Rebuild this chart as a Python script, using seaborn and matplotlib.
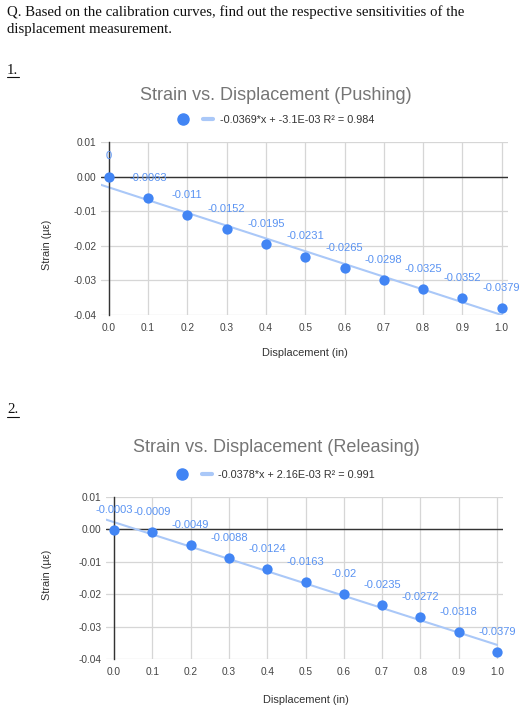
import numpy as np
import pandas as pd
import matplotlib
matplotlib.use("Agg")
import matplotlib.pyplot as plt
import seaborn as sns
from matplotlib.lines import Line2D

sns.set_style("white")
plt.rcParams['font.family'] = ['Liberation Sans', 'DejaVu Sans']

# --- data ---
displacement = [0.0, 0.1, 0.2, 0.3, 0.4, 0.5, 0.6, 0.7, 0.8, 0.9, 1.0]
strain_push = [0, -0.0063, -0.011, -0.0152, -0.0195, -0.0231, -0.0265,
               -0.0298, -0.0325, -0.0352, -0.0379]
strain_release = [-0.0003, -0.0009, -0.0049, -0.0088, -0.0124, -0.0163, -0.02,
                  -0.0235, -0.0272, -0.0318, -0.0379]
push_labels = ['0', '-0.0063', '-0.011', '-0.0152', '-0.0195', '-0.0231', '-0.0265',
               '-0.0298', '-0.0325', '-0.0352', '-0.0379']
release_labels = ['-0.0003', '-0.0009', '-0.0049', '-0.0088', '-0.0124', '-0.0163',
                  '-0.02', '-0.0235', '-0.0272', '-0.0318', '-0.0379']
trend_push = (-0.0369, -3.1e-3)
trend_release = (-0.0378, 2.16e-3)
eq_push = '-0.0369*x + -3.1E-03 R² = 0.984'
eq_release = '-0.0378*x + 2.16E-03 R² = 0.991'
x_ticks = [0.0, 0.1, 0.2, 0.3, 0.4, 0.5, 0.6, 0.7, 0.8, 0.9, 1.0]
y_ticks = [0.01, 0.00, -0.01, -0.02, -0.03, -0.04]

W, H = 524, 714
POINT = '#4285F4'
LABEL = '#5a93f2'
TREND = '#aac8f8'

fig = plt.figure(figsize=(W / 100, H / 100), dpi=100)


def px(x, y):
    return x / W, 1 - y / H


def draw_chart(left, right, top, bottom, strain, labels, trend, eq, title,
               title_y, legend_y, ylabel_y, xlabel_y):
    xmin, xmax = -0.02, 1.015
    # axes rectangle in pixels, computed from where 0.0 / 1.0 sit
    scale = (right - left) / 1.0
    ax_l = left + xmin * scale
    ax_r = left + xmax * scale
    ax = fig.add_axes([ax_l / W, 1 - bottom / H, (ax_r - ax_l) / W, (bottom - top) / H])

    df = pd.DataFrame({'x': displacement, 'y': strain})
    tx = np.array([xmin, 1.0])
    ax.plot(tx, trend[0] * tx + trend[1], color=TREND, lw=1.5, zorder=2)
    sns.scatterplot(data=df, x='x', y='y', ax=ax, color=POINT, s=55,
                    edgecolor=POINT, linewidth=0, zorder=3, legend=False)
    for xv, yv, lab in zip(displacement, strain, labels):
        ax.annotate(lab, (xv, yv), xytext=(0, 14.5), textcoords='offset points',
                    ha='center', va='center', fontsize=8, color=LABEL, zorder=4)

    ax.set_xlim(xmin, xmax)
    ax.set_ylim(-0.04, 0.01)
    ax.set_xticks(x_ticks)
    ax.set_xticklabels([f'{t:.1f}' for t in x_ticks])
    ax.set_yticks(y_ticks)
    ax.set_yticklabels([f'{t:.2f}' for t in y_ticks])
    ax.grid(True, color='#d6d6d6', lw=0.9, zorder=0)
    for s in ['top', 'right', 'bottom']:
        ax.spines[s].set_visible(False)
    ax.spines['left'].set_position(('data', 0))
    ax.spines['left'].set_color('#333333')
    ax.spines['left'].set_linewidth(1.0)
    ax.axhline(0, color='#333333', lw=1.0, zorder=1)
    ax.tick_params(axis='both', length=0, labelsize=7.3, labelcolor='#444444')
    ax.tick_params(axis='y', pad=9)
    ax.tick_params(axis='x', pad=6)
    ax.set_xlabel('')
    ax.set_ylabel('')

    cx = (left + right) / 2
    fig.text(*px(276, title_y), title, ha='center', va='center',
             fontsize=13, color='#757575')
    handles = [Line2D([], [], marker='o', ls='', color=POINT, markersize=8),
               Line2D([], [], color=TREND, lw=3)]
    fig.legend(handles, ['', eq], loc='center', bbox_to_anchor=px(276, legend_y),
               ncol=2, frameon=False, fontsize=7.8, handlelength=0.9,
               handletextpad=0.6, columnspacing=0.85, labelcolor='#333333')
    fig.text(*px(47, ylabel_y), 'Strain (µε)', rotation=90, ha='center', va='center',
             fontsize=7.8, color='#333333')
    fig.text(*px(cx, xlabel_y), 'Displacement (in)', ha='center', va='center',
             fontsize=7.9, color='#333333')
    return ax


# question header
serif = ['Liberation Serif', 'DejaVu Serif']
fig.text(*px(7, 12), 'Q. Based on the calibration curves, find out the respective '
         'sensitivities of the', ha='left', va='center', fontsize=10.7,
         family=serif, color='#111111')
fig.text(*px(7, 29), 'displacement measurement.', ha='left', va='center',
         fontsize=10.7, family=serif, color='#111111')
for label, y in [('1.', 70), ('2.', 410)]:
    fig.text(*px(7, y), label, ha='left', va='center', fontsize=10.7,
             family=serif, color='#111111')
    fig.add_artist(Line2D([7 / W, 19 / W], [1 - (y + 7) / H] * 2,
                          color='#111111', lw=0.8))

draw_chart(108.7, 501.7, 142, 315, strain_push, push_labels, trend_push, eq_push,
           'Strain vs. Displacement (Pushing)', 96, 120, 245, 353)
draw_chart(114, 497, 496.7, 659, strain_release, release_labels, trend_release,
           eq_release, 'Strain vs. Displacement (Releasing)', 448, 475, 575, 700)

fig.savefig('out.png', dpi=100, facecolor='white')
